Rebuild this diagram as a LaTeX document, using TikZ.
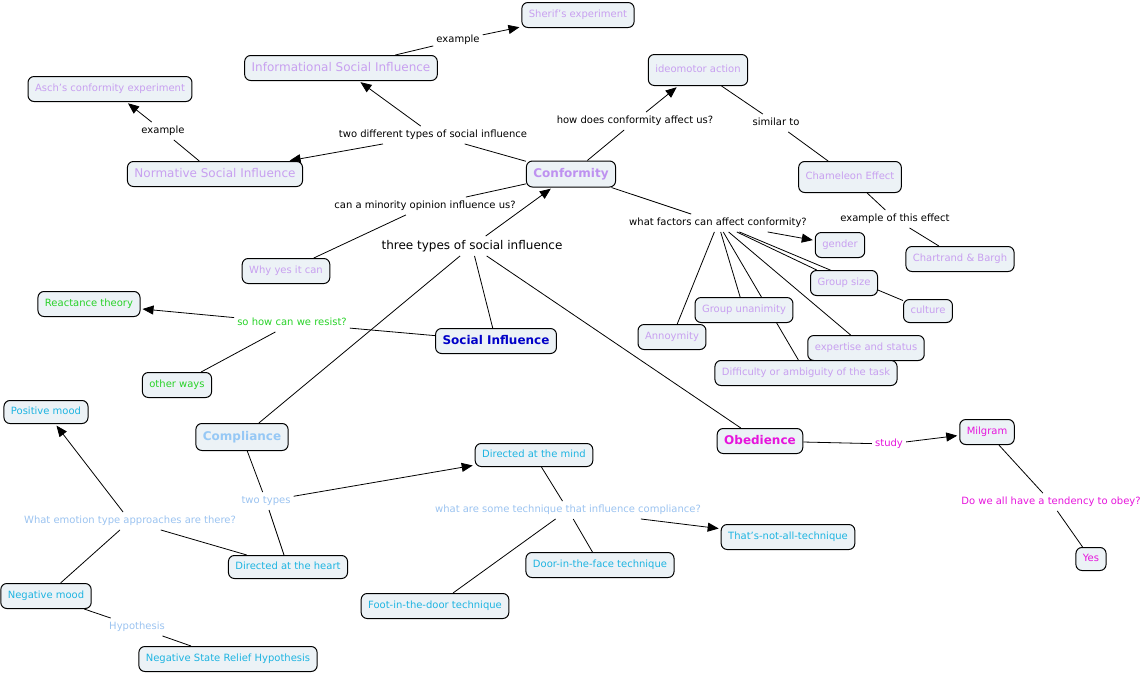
\documentclass[tikz,border=0pt]{standalone}
\usepackage{fontspec}
\setmainfont{DejaVu Sans}
\usetikzlibrary{arrows.meta}
\pgfdeclarelayer{bg}
\pgfsetlayers{bg,main}
\definecolor{lav}{RGB}{200,160,240}
\definecolor{lavb}{RGB}{190,145,240}
\definecolor{grn}{RGB}{40,210,40}
\definecolor{dblue}{RGB}{0,0,200}
\definecolor{compl}{RGB}{150,200,245}
\definecolor{cyn}{RGB}{30,180,225}
\definecolor{lblue}{RGB}{155,195,240}
\definecolor{mag}{RGB}{230,20,220}
\definecolor{boxfill}{RGB}{236,242,246}
\begin{document}
\begin{tikzpicture}[x=1pt,y=-1pt,
  box/.style={draw=black, line width=1pt, rounded corners=6pt, fill=boxfill,
    font=\fontsize{10}{12}\selectfont, inner xsep=7pt, inner ysep=0pt,
    minimum height=25pt, text height=7.5pt, text depth=2pt},
  bigtxt/.style={font=\fontsize{12}{14}\selectfont, text height=9pt, text depth=2.5pt},
  bigbold/.style={font=\fontsize{12}{14}\selectfont\bfseries, text height=9pt, text depth=2.5pt},
  lab/.style={font=\fontsize{10}{12}\selectfont, inner xsep=3pt, inner ysep=4pt, text height=7.5pt, text depth=2pt},
  conn/.style={line width=0.8pt, draw=black},
  arr/.style={conn, -{Triangle[length=11pt,width=9pt]}, shorten >=2pt},
]
\useasboundingbox (0,-2) rectangle (1144,671);

% concept nodes
\node[box, text=lav] (sherif) at (578,13) {Sherif's experiment};
\node[box, bigtxt, text=lav] (info) at (341,66) {Informational Social Influence};
\node[box, text=lav] (asch) at (110,87) {Asch's conformity experiment};
\node[box, bigtxt, text=lav] (norm) at (215,172) {Normative Social Influence};
\node[box, text=lav, minimum height=31pt] (ideo) at (698,68) {ideomotor action};
\node[box, bigbold, text=lavb, minimum height=26pt] (conf) at (571,172) {Conformity};
\node[box, text=lav, minimum height=31pt] (cham) at (850,175) {Chameleon Effect};
\node[box, text=lav] (gender) at (840,243) {gender};
\node[box, text=lav] (chart) at (960,257) {Chartrand \& Bargh};
\node[box, text=lav] (gsize) at (844,281) {Group size};
\node[box, text=lav, minimum height=23pt] (culture) at (928,309) {culture};
\node[box, text=lav] (unan) at (744,308) {Group unanimity};
\node[box, text=lav] (anno) at (672,335) {Annoymity};
\node[box, text=lav] (exp) at (866,346) {expertise and status};
\node[box, text=lav] (diff) at (806,371) {Difficulty or ambiguity of the task};
\node[box, text=lav] (why) at (286,269) {Why yes it can};
\node[box, text=grn] (react) at (89,302) {Reactance theory};
\node[box, bigbold, text=dblue] (si) at (496,339) {Social Influence};
\node[box, text=grn] (other) at (177,383) {other ways};
\node[box, text=cyn, minimum height=23pt] (pos) at (46,410) {Positive mood};
\node[box, bigbold, text=compl, minimum height=27pt] (compl) at (242,435) {Compliance};
\node[box, bigbold, text=mag] (obed) at (760,439) {Obedience};
\node[box, text=mag] (milg) at (987,430) {Milgram};
\node[box, text=cyn, minimum height=23pt] (mind) at (534,453) {Directed at the mind};
\node[box, text=cyn] (tna) at (788,535) {That's-not-all-technique};
\node[box, text=cyn, minimum height=23pt] (heart) at (288,565) {Directed at the heart};
\node[box, text=cyn] (door) at (600,563) {Door-in-the-face technique};
\node[box, text=cyn] (foot) at (435,604) {Foot-in-the-door technique};
\node[box, text=cyn] (neg) at (46,594) {Negative mood};
\node[box, text=cyn] (nsrh) at (228,657) {Negative State Relief Hypothesis};
\node[box, text=mag, minimum height=23pt] (yes) at (1091,557) {Yes};

% linking phrases
\node[lab] (lex1) at (458,38) {example};
\node[lab] (ltwo) at (433,133) {two different types of social influence};
\node[lab] (lex2) at (163,129) {example};
\node[lab] (lhow) at (635,119) {how does conformity affect us?};
\node[lab] (lsim) at (776,121) {similar to};
\node[lab] (lexe) at (895,217) {example of this effect};
\node[lab] (lmin) at (425,204) {can a minority opinion influence us?};
\node[lab, bigtxt] (lthree) at (472,244) {three types of social influence};
\node[lab] (lfac) at (718,221) {what factors can affect conformity?};
\node[lab, text=grn] (lres) at (292,321) {so how can we resist?};
\node[lab, text=lblue] (ltt) at (266,499) {two types};
\node[lab, text=lblue] (lemo) at (130,519) {What emotion type approaches are there?};
\node[lab, text=lblue] (lhyp) at (137,625) {Hypothesis};
\node[lab, text=lblue] (ltech) at (568,508) {what are some technique that influence compliance?};
\node[lab, text=mag] (lstudy) at (889,442) {study};
\node[lab, text=mag] (lobey) at (1051,500) {Do we all have a tendency to obey?};

\begin{pgfonlayer}{bg}
\draw[conn] (info) -- (lex1);
\draw[arr] (lex1) -- (sherif);
\draw[conn] (conf) -- (ltwo);
\draw[arr] (ltwo) -- (info);
\draw[arr] (ltwo) -- (norm);
\draw[conn] (norm) -- (lex2);
\draw[arr] (lex2) -- (asch);
\draw[conn] (conf) -- (lhow);
\draw[arr] (lhow) -- (ideo);
\draw[conn] (ideo) -- (lsim);
\draw[conn] (lsim) -- (cham);
\draw[conn] (cham) -- (lexe);
\draw[conn] (lexe) -- (chart);
\draw[conn] (conf) -- (lmin);
\draw[conn] (lmin) -- (why);
\draw[conn] (si) -- (lthree);
\draw[arr] (lthree) -- (conf);
\draw[conn] (lthree) -- (compl);
\draw[conn] (lthree) -- (obed);
\draw[conn] (conf) -- (lfac);
\draw[arr] (lfac) -- (gender);
\draw[conn] (lfac) -- (gsize);
\draw[conn] (lfac) -- (culture);
\draw[conn] (lfac) -- (unan);
\draw[conn] (lfac) -- (anno);
\draw[conn] (lfac) -- (diff);
\draw[conn] (lfac) -- (exp);
\draw[conn] (si) -- (lres);
\draw[arr] (lres) -- (react);
\draw[conn] (lres) -- (other);
\draw[conn] (compl) -- (ltt);
\draw[conn] (ltt) -- (heart);
\draw[arr] (ltt) -- (mind);
\draw[conn] (heart) -- (lemo);
\draw[arr] (lemo) -- (pos);
\draw[conn] (lemo) -- (neg);
\draw[conn] (neg) -- (lhyp);
\draw[conn] (lhyp) -- (nsrh);
\draw[conn] (mind) -- (ltech);
\draw[arr] (ltech) -- (tna);
\draw[conn] (ltech) -- (door);
\draw[conn] (ltech) -- (foot);
\draw[conn] (obed) -- (lstudy);
\draw[arr] (lstudy) -- (milg);
\draw[conn] (milg) -- (lobey);
\draw[conn] (lobey) -- (yes);
\end{pgfonlayer}
\end{tikzpicture}
\end{document}
